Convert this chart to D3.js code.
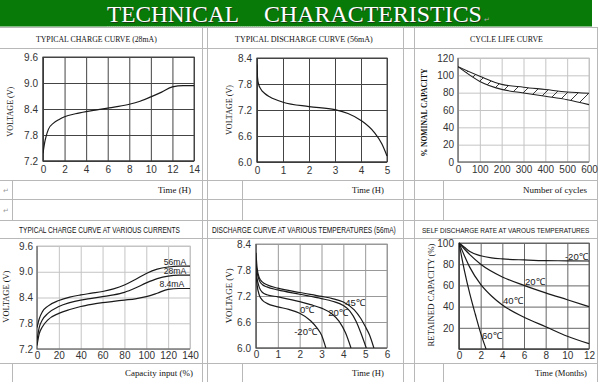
<!DOCTYPE html>
<html><head><meta charset="utf-8">
<script src="https://cdn.jsdelivr.net/npm/d3@7"></script>
<style>body{margin:0;background:#fff}svg{display:block}</style>
</head><body><svg id="c" width="600" height="382"></svg>
<script>
// ---------- DATA ----------
// Panel 1: typical charge curve (28mA)
const p1Time = [0,0.15,0.3,0.5,1,1.5,2,3,4,5,6,7,8,9,10,11,12,13,14];
const p1Volt = [7.38,7.62,7.78,7.93,8.08,8.16,8.22,8.29,8.34,8.38,8.42,8.46,8.51,8.58,8.68,8.79,8.91,8.94,8.94];
const p1XTicks = [0,2,4,6,8,10,12,14];
const p1XLabels = ["0","2","4","6","8","10","12","14"];
const p1YTicks = [7.2,7.8,8.4,9.0,9.6];
const p1YLabels = ["7.2","7.8","8.4","9.0","9.6"];

// Panel 2: typical discharge curve (56mA)
const p2Time = [0,0.02,0.06,0.15,0.3,0.5,1,2,3,3.5,4,4.5,4.8,5];
const p2Volt = [8.25,7.95,7.8,7.68,7.58,7.5,7.38,7.28,7.21,7.12,6.96,6.69,6.42,6.14];
const p2XTicks = [0,1,2,3,4,5];
const p2XLabels = ["0","1","2","3","4","5"];
const p2YTicks = [6.0,6.6,7.2,7.8,8.4];
const p2YLabels = ["6.0","6.6","7.2","7.8","8.4"];

// Panel 3: cycle life band
const p3Cycles = [0,100,200,300,400,500,600];
const p3Upper = [110,99,89.6,86.3,83.6,80.8,79.4];
const p3Lower = [110,93,83.8,79.6,75.8,71.9,66.2];
const p3XTicks = [0,100,200,300,400,500,600];
const p3XLabels = ["0","100","200","300","400","500","600"];
const p3YTicks = [0,20,40,60,80,100,120];
const p3YLabels = ["0","20","40","60","80","100","120"];

// Panel 4: charge curve at various currents
const p4Cap = [0,2,5,10,20,30,40,50,60,70,80,90,100,110,120,130,140];
const p4V56 = [7.7,7.9,8.07,8.2,8.33,8.41,8.46,8.5,8.54,8.6,8.69,8.82,8.96,9.06,9.11,9.13,9.13];
const p4V28 = [7.4,7.7,7.88,8.03,8.19,8.28,8.34,8.38,8.42,8.46,8.52,8.62,8.74,8.84,8.9,8.92,8.92];
const p4V84 = [7.28,7.55,7.72,7.88,8.03,8.12,8.19,8.24,8.28,8.31,8.34,8.37,8.42,8.5,8.59,8.61,8.61];
const p4Names = ["56mA","28mA","8.4mA"];
const p4XTicks = [0,20,40,60,80,100,120,140];
const p4XLabels = ["0","20","40","60","80","100","120","140"];
const p4YTicks = [7.2,7.8,8.4,9.0,9.6];
const p4YLabels = ["7.2","7.8","8.4","9.0","9.6"];

// Panel 5: discharge at various temperatures (56mA)
const p5T45 = [0,0.05,0.15,0.3,0.5,1,2,3,3.5,4,4.5,4.8,5,5.2,5.4];
const p5V45 = [8.2,7.85,7.62,7.52,7.46,7.38,7.28,7.19,7.14,7.06,6.88,6.68,6.5,6.3,6.0];
const p5T20 = [0,0.05,0.15,0.3,0.5,1,2,3,3.5,4,4.3,4.6,4.8,5.05];
const p5V20 = [7.95,7.75,7.56,7.46,7.41,7.34,7.24,7.14,7.08,6.98,6.85,6.6,6.35,6.0];
const p5T0 = [0,0.05,0.15,0.3,0.5,1,2,2.5,3,3.5,3.8,4.1,4.35];
const p5V0 = [7.8,7.6,7.4,7.28,7.23,7.18,7.07,7.0,6.92,6.78,6.62,6.35,6.0];
const p5Tm20 = [0,0.05,0.15,0.3,0.5,1,1.5,2,2.5,2.8,3.0,3.2];
const p5Vm20 = [7.7,7.45,7.22,7.1,7.03,6.95,6.89,6.8,6.63,6.46,6.3,6.0];
const p5Names = ["45℃","20℃","0℃","-20℃"];
const p5XTicks = [0,1,2,3,4,5,6];
const p5XLabels = ["0","1","2","3","4","5","6"];
const p5YTicks = [6.0,6.6,7.2,7.8,8.4];
const p5YLabels = ["6.0","6.6","7.2","7.8","8.4"];

// Panel 6: self discharge rate
const p6Tm20 = [0,0.5,1,2,3,4,6,8,10,12];
const p6Cm20 = [100,96,92,88,86,85,84,83.3,83.2,83];
const p6T20 = [0,1,2,4,6,8,10,12];
const p6C20 = [100,89,80,68,60,53,46.5,40];
const p6T40 = [0,0.5,1,2,3,4,6,8,10,12];
const p6C40 = [100,88,77,61,50,41.5,30,21,12,5];
const p6T60 = [0,0.5,1,1.5,2,2.5];
const p6C60 = [100,74,52,33,15,0];
const p6Names = ["-20℃","20℃","40℃","60℃"];
const p6XTicks = [0,2,4,6,8,10,12];
const p6XLabels = ["0","2","4","6","8","10","12"];
const p6YTicks = [0,20,40,60,80,100];
const p6YLabels = ["","20","40","60","80","100"];

// ---------- DRAWING ----------
const svg = d3.select("#c");
const SERIF = "Liberation Serif, Times New Roman, serif";
const SANS = "Liberation Sans, Arial, sans-serif";

function txt(g, x, y, s, o = {}) {
  const t = g.append("text").text(s)
    .attr("font-family", o.ff || SERIF).attr("font-size", o.fs || 9)
    .attr("fill", o.fill || "#222").attr("text-anchor", o.anchor || "start");
  if (o.fw) t.attr("font-weight", o.fw);
  if (o.fit) {
    // squeeze horizontally to a target width with a transform
    t.attr("x", 0).attr("y", 0);
    const nat = t.node().getComputedTextLength();
    const sx = nat > 0 ? o.fit / nat : 1;
    t.attr("transform", `translate(${x},${y}) scale(${sx},1)`);
    return t;
  }
  t.attr("x", x).attr("y", y);
  if (o.len) t.attr("textLength", o.len).attr("lengthAdjust", "spacingAndGlyphs");
  if (o.rot) t.attr("transform", `rotate(-90,${x},${y})`);
  return t;
}

// Title bar
svg.append("rect").attr("x", 0).attr("y", 0).attr("width", 592).attr("height", 26.5).attr("fill", "#077a07");
const tg = svg.append("g");
[["TECHNICAL", 107, 132], ["CHARACTERISTICS", 264, 218]].forEach(([s, x, w]) => {
  txt(tg, x + 0.8, 22.8, s, { fs: 24, fill: "#1c3a1c", fit: w });
  txt(tg, x, 22, s, { fs: 24, fill: "#ffffff", fit: w });
});
svg.append("line").attr("x1", 107).attr("x2", 482).attr("y1", 26.5).attr("y2", 26.5)
  .attr("stroke", "#9c9").attr("stroke-width", 1.2).attr("stroke-dasharray", "1,1");
txt(svg, 484, 22, "↵", { fs: 7, fill: "#aaa", ff: SANS });

// Table grid lines
const tableG = svg.append("g").attr("stroke", "#b8b8b8").attr("stroke-width", 1);
[27, 48, 180, 199, 220, 238, 363].forEach(yy => {
  tableG.append("line").attr("x1", 0).attr("x2", 597).attr("y1", yy + 0.5).attr("y2", yy + 0.5);
});
[202, 207, 403, 414, 597].forEach(xx => {
  tableG.append("line").attr("x1", xx + 0.5).attr("x2", xx + 0.5).attr("y1", 27).attr("y2", 382);
});
[12, 242, 443].forEach(xx => {
  tableG.append("line").attr("x1", xx + 0.5).attr("x2", xx + 0.5).attr("y1", 180).attr("y2", 220);
  tableG.append("line").attr("x1", xx + 0.5).attr("x2", xx + 0.5).attr("y1", 363).attr("y2", 382);
});
// Word paragraph marks
txt(svg, 3, 193, "↵", { fs: 7, fill: "#999", ff: SANS });
txt(svg, 3, 213, "↵", { fs: 7, fill: "#999", ff: SANS });

// hatch pattern
const defs = svg.append("defs");
const pat = defs.append("pattern").attr("id", "hatch").attr("patternUnits", "userSpaceOnUse")
  .attr("width", 11).attr("height", 11);
pat.append("path").attr("d", "M0,11 L11,0 M-1,1 L1,-1 M10,12 L12,10")
  .attr("stroke", "#222").attr("stroke-width", 0.9);

let clipId = 0;
function panel(cfg) {
  const x = d3.scaleLinear().domain(cfg.xd).range([cfg.l, cfg.r]);
  const y = d3.scaleLinear().domain(cfg.yd).range([cfg.b, cfg.t]);
  const g = svg.append("g");
  const w = cfg.r - cfg.l, h = cfg.b - cfg.t;

  const ax = g.append("g").attr("transform", `translate(0,${cfg.b})`)
    .call(d3.axisBottom(x).tickValues(cfg.xt).tickFormat((d, i) => cfg.xl[i]).tickSize(-h).tickPadding(cfg.pad));
  ax.select(".domain").remove();
  ax.selectAll("line").attr("stroke", cfg.grid);
  ax.selectAll("text").attr("font-family", SANS).attr("font-size", 10).attr("fill", "#333");

  const ay = g.append("g").attr("transform", `translate(${cfg.l},0)`)
    .call(d3.axisLeft(y).tickValues(cfg.yt).tickFormat((d, i) => cfg.yl[i]).tickSize(-w).tickPadding(cfg.ypad));
  ay.select(".domain").remove();
  ay.selectAll("line").attr("stroke", cfg.grid);
  ay.selectAll("text").attr("font-family", SANS).attr("font-size", 10).attr("fill", "#333");

  // frame
  g.append("rect").attr("x", cfg.l).attr("y", cfg.t).attr("width", w).attr("height", h)
    .attr("fill", "none").attr("stroke", cfg.grid);
  g.append("path").attr("d", `M${cfg.l},${cfg.t}V${cfg.b}H${cfg.r}`)
    .attr("fill", "none").attr("stroke", cfg.axis).attr("stroke-width", 1.1);

  const id = "clip" + (clipId++);
  defs.append("clipPath").attr("id", id).append("rect")
    .attr("x", cfg.l).attr("y", cfg.t - 1).attr("width", w + 1).attr("height", h + 1);
  const pg = g.append("g").attr("clip-path", `url(#${id})`);

  if (cfg.band) {
    const b = cfg.band;
    const area = d3.area().x((d, i) => x(b.xs[i])).y0((d, i) => y(b.lo[i])).y1((d, i) => y(b.hi[i])).curve(d3.curveMonotoneX);
    pg.append("path").attr("d", area(b.xs)).attr("fill", "url(#hatch)");
    [b.hi, b.lo].forEach(arr => {
      const ln = d3.line().x((d, i) => x(b.xs[i])).y(d => y(d)).curve(d3.curveMonotoneX);
      pg.append("path").attr("d", ln(arr)).attr("fill", "none").attr("stroke", "#222").attr("stroke-width", 1.1);
    });
  }
  (cfg.series || []).forEach(s => {
    const ln = d3.line().x(d => x(d[0])).y(d => y(d[1])).curve(d3.curveMonotoneX);
    const pts = s.xs.map((v, i) => [v, s.ys[i]]);
    pg.append("path").attr("d", ln(pts)).attr("fill", "none").attr("stroke", "#1a1a1a").attr("stroke-width", 1.2);
  });
  (cfg.labels || []).forEach(lb => {
    txt(g, x(lb.x), y(lb.y), lb.t, { ff: SANS, fs: cfg.lfs || 9.5, fill: "#222" });
  });
  // titles
  txt(svg, cfg.title.x, cfg.title.y, cfg.title.t, { ff: cfg.title.ff, fs: cfg.title.fs, fit: cfg.title.len, fill: "#111" });
  txt(svg, cfg.xlab.x, cfg.xlab.y, cfg.xlab.t, { fs: 9, fit: cfg.xlab.len, fill: "#111" });
  txt(svg, cfg.ylab.x, cfg.ylab.y, cfg.ylab.t, { fs: cfg.ylab.fs || 8.5, len: cfg.ylab.len, rot: true, anchor: "middle", fill: "#111", fw: cfg.ylab.fw });
}

// Panel 1
panel({
  l: 43, r: 194, t: 57, b: 161, xd: [0, 14], yd: [7.2, 9.6],
  xt: p1XTicks, xl: p1XLabels, yt: p1YTicks, yl: p1YLabels, pad: 5, ypad: 5,
  grid: "#444", axis: "#333",
  series: [{ xs: p1Time, ys: p1Volt }],
  title: { x: 36, y: 42.3, t: "TYPICAL CHARGE CURVE (28mA)", fs: 8.5, len: 121, ff: SERIF },
  xlab: { x: 158, y: 192.7, t: "Time  (H)", len: 33 },
  ylab: { x: 13.3, y: 111.7, t: "VOLTAGE (V)", len: 50 }
});
// Panel 2
panel({
  l: 257, r: 387, t: 58, b: 162, xd: [0, 5], yd: [6.0, 8.4],
  xt: p2XTicks, xl: p2XLabels, yt: p2YTicks, yl: p2YLabels, pad: 5, ypad: 5,
  grid: "#444", axis: "#333",
  series: [{ xs: p2Time, ys: p2Volt }],
  title: { x: 235, y: 42.3, t: "TYPICAL DISCHARGE CURVE (56mA)", fs: 8.5, len: 138, ff: SERIF },
  xlab: { x: 352, y: 192.7, t: "Time  (H)", len: 32 },
  ylab: { x: 232.3, y: 110, t: "VOLTAGE (V)", len: 50 }
});
// Panel 3
panel({
  l: 458, r: 589, t: 58, b: 162, xd: [0, 600], yd: [0, 120],
  xt: p3XTicks, xl: p3XLabels, yt: p3YTicks, yl: p3YLabels, pad: 4, ypad: 4,
  grid: "#c4c4c4", axis: "#555",
  band: { xs: p3Cycles, hi: p3Upper, lo: p3Lower },
  title: { x: 470, y: 42.3, t: "CYCLE LIFE CURVE", fs: 8.5, len: 73, ff: SERIF },
  xlab: { x: 523, y: 192.7, t: "Number  of  cycles", len: 64 },
  ylab: { x: 426.7, y: 112.5, t: "% NOMINAL CAPACITY", len: 88, fw: "bold" }
});
// Panel 4
panel({
  l: 37, r: 190, t: 246, b: 349, xd: [0, 140], yd: [7.2, 9.6],
  xt: p4XTicks, xl: p4XLabels, yt: p4YTicks, yl: p4YLabels, pad: 2.5, ypad: 4, lfs: 8.6,
  grid: "#c4c4c4", axis: "#555",
  series: [{ xs: p4Cap, ys: p4V56 }, { xs: p4Cap, ys: p4V28 }, { xs: p4Cap, ys: p4V84 }],
  labels: [{ x: 116, y: 9.16, t: p4Names[0] }, { x: 116, y: 8.94, t: p4Names[1] }, { x: 112, y: 8.64, t: p4Names[2] }],
  title: { x: 19, y: 233.3, t: "TYPICAL CHARGE CURVE AT VARIOUS CURRENTS", fs: 8.2, len: 161, ff: SANS },
  xlab: { x: 125, y: 375.7, t: "Capacity  input  (%)", len: 68 },
  ylab: { x: 9.3, y: 296.7, t: "VOLTAGE (V)", len: 52 }
});
// Panel 5
panel({
  l: 256, r: 387, t: 244, b: 348, xd: [0, 6], yd: [6.0, 8.4],
  xt: p5XTicks, xl: p5XLabels, yt: p5YTicks, yl: p5YLabels, pad: 3, ypad: 5,
  grid: "#999", axis: "#444",
  series: [{ xs: p5T45, ys: p5V45 }, { xs: p5T20, ys: p5V20 }, { xs: p5T0, ys: p5V0 }, { xs: p5Tm20, ys: p5Vm20 }],
  labels: [{ x: 4.09, y: 6.97, t: p5Names[0] }, { x: 3.31, y: 6.75, t: p5Names[1] }, { x: 2.02, y: 6.81, t: p5Names[2] }, { x: 1.75, y: 6.31, t: p5Names[3] }],
  title: { x: 212, y: 233.3, t: "DISCHARGE CURVE AT VARIOUS TEMPERATURES (56mA)", fs: 8.2, len: 184, ff: SANS },
  xlab: { x: 352, y: 376, t: "Time  (H)", len: 32 },
  ylab: { x: 231.7, y: 295.8, t: "VOLTAGE (V)", len: 55 }
});
// Panel 6
panel({
  l: 459, r: 589, t: 243, b: 349, xd: [0, 12], yd: [0, 100],
  xt: p6XTicks, xl: p6XLabels, yt: p6YTicks, yl: p6YLabels, pad: 3, ypad: 5,
  grid: "#666", axis: "#333",
  series: [{ xs: p6Tm20, ys: p6Cm20 }, { xs: p6T20, ys: p6C20 }, { xs: p6T40, ys: p6C40 }, { xs: p6T60, ys: p6C60 }],
  labels: [{ x: 9.78, y: 84.2, t: p6Names[0] }, { x: 6.09, y: 60.3, t: p6Names[1] }, { x: 4.06, y: 42.3, t: p6Names[2] }, { x: 2.12, y: 9.7, t: p6Names[3] }],
  title: { x: 422, y: 233.3, t: "SELF DISCHARGE RATE AT VAROUS TEMPERATURES", fs: 8, len: 168, ff: SANS },
  xlab: { x: 535, y: 376, t: "Time  (Months)", len: 52 },
  ylab: { x: 434.3, y: 295, t: "RETAINED CAPACITY (%)", len: 103, fs: 9 }
});
</script>
</body></html>
